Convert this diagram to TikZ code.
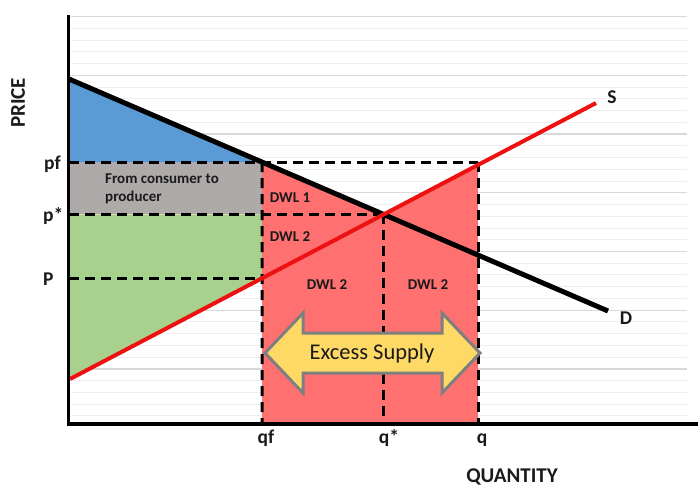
\documentclass[tikz,border=0pt]{standalone}
\usepackage{fontspec}
\setmainfont{Carlito}
\definecolor{gridA}{HTML}{D9D9D9}
\definecolor{gridB}{HTML}{EEEEEE}
\definecolor{cblue}{HTML}{5B9BD5}
\definecolor{cgray}{HTML}{AEAAAA}
\definecolor{cgreen}{HTML}{A9D18E}
\definecolor{cred}{HTML}{FF7070}
\definecolor{sred}{HTML}{EE1111}
\definecolor{ayellow}{HTML}{FFD966}
\definecolor{agray}{HTML}{7F7F7F}
\definecolor{txt}{HTML}{1A1A1A}
\begin{document}
\begin{tikzpicture}[x=1pt,y=-1pt,
  dsh/.style={line width=3pt, dash pattern=on 10pt off 6pt},
  lbl/.style={font=\bfseries\fontsize{19.5}{19.5}\selectfont, text=txt, inner sep=0pt},
  axl/.style={font=\bfseries\fontsize{21}{21}\selectfont, text=txt, inner sep=0pt},
  dwl/.style={font=\bfseries\fontsize{15}{18.4}\selectfont, text=txt, inner sep=0pt}]
\useasboundingbox (0,0) rectangle (700,493);
% grid
\foreach \i in {0,...,34} {
  \pgfmathsetmacro\yy{16.7+11.74*\i}
  \pgfmathtruncatemacro\m{mod(\i,5)}
  \ifnum\m=0
    \draw[gridA,line width=1.3pt] (71,\yy) -- (687,\yy);
  \else
    \draw[gridB,line width=1pt] (71,\yy) -- (687,\yy);
  \fi
}
% key coordinates
\coordinate (D0) at (69,79);
\coordinate (D1) at (608,311);
\coordinate (S0) at (70,379);
\coordinate (S1) at (596,103);
\coordinate (qfA) at (262,0);
\coordinate (qfB) at (262,424);
\coordinate (qA) at (478,0);
\coordinate (qB) at (478,424);
\coordinate (E) at (intersection of D0--D1 and S0--S1);
\coordinate (DQF) at (intersection of D0--D1 and qfA--qfB);
\coordinate (SQF) at (intersection of S0--S1 and qfA--qfB);
\coordinate (SQ) at (intersection of S0--S1 and qA--qB);
% fills
\fill[cblue] (D0) -- (DQF) -- (D0 |- DQF) -- cycle;
\fill[cgray] (D0 |- DQF) rectangle (DQF |- E);
\fill[cgreen] (D0 |- E) -- (DQF |- E) -- (SQF) -- (69,379.5) -- cycle;
\fill[cred] (DQF) -- (E) -- (SQ) -- (qA |- DQF) -- (qB) -- (qfB) -- cycle;
% dashed guides
\draw[dsh] (D0 |- DQF) -- (qA |- DQF);
\draw[dsh] (D0 |- E) -- (E);
\draw[dsh] (D0 |- SQF) -- (SQF);
\draw[dsh] (DQF) -- (qfB);
\draw[dsh] (E) -- (E |- qB);
\draw[dsh] (qA |- DQF) -- (qB);
% curves
\draw[line width=5pt] (D0) -- (D1);
\draw[sred, line width=4pt] (S0) -- (S1);
% axes
\draw[line width=3.5pt] (68.5,15) -- (68.5,424) -- (698,424);
% excess supply arrow
\draw[agray, line width=3pt, fill=ayellow, line join=miter]
  (265,353) -- (303,313) -- (303,333) -- (442,333) -- (442,313) -- (480,353)
  -- (442,393) -- (442,373) -- (303,373) -- (303,393) -- cycle;
\node[font=\fontsize{22.5}{22.5}\selectfont, text=txt, inner sep=0pt] (es) at (372,353) {Excess Supply};
% labels
\node[axl, rotate=90] (price) at (18,103) {PRICE};
\node[axl] (quantity) at (512,477) {QUANTITY};
\node[lbl, anchor=base west] (pf) at (44,169) {pf};
\node[lbl, anchor=base west] (ps) at (43,221) {p*};
\node[lbl, anchor=base west] (pp) at (43,285) {P};
\node[lbl, anchor=base] (qf) at (266,443) {qf};
\node[lbl, anchor=base] (qs) at (389,443) {q*};
\node[lbl, anchor=base] (qq) at (482,443) {q};
\node[lbl] (slab) at (612,97) {S};
\node[lbl] (dlab) at (626,318) {D};
\node[dwl] (dwl1) at (290,198) {DWL 1};
\node[dwl] (dwl2a) at (290,237) {DWL 2};
\node[dwl] (dwl2b) at (327,285) {DWL 2};
\node[dwl] (dwl2c) at (428,285) {DWL 2};
\node[dwl, anchor=base west, align=left] (ctp) at (105,201.7) {From consumer to\\producer};
\end{tikzpicture}
\end{document}
